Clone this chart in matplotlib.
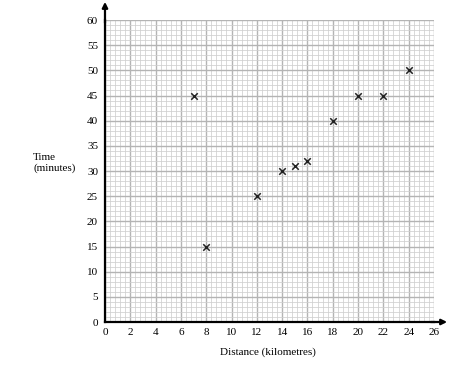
import matplotlib
matplotlib.use('Agg')
import matplotlib.pyplot as plt
import numpy as np

# data
distance = [7, 8, 12, 14, 15, 16, 18, 20, 22, 24]
time_min = [45, 15, 25, 30, 31, 32, 40, 45, 45, 50]

x_ticks = list(range(0, 27, 2))
y_ticks = list(range(0, 61, 5))

plt.rcParams['font.family'] = 'Liberation Serif'

fig = plt.figure(figsize=(4.74, 3.65), dpi=100)
ax = fig.add_axes([0.2215, 0.1178, 0.694, 0.8274])

ax.set_xlim(0, 26)
ax.set_ylim(0, 60)

# graph paper grid
ax.set_xticks(x_ticks)
ax.set_yticks(y_ticks)
ax.set_xticks(np.arange(0, 26.01, 0.4), minor=True)
ax.set_yticks(np.arange(0, 60.01, 1), minor=True)
ax.grid(which='major', color='#b4b4b4', linewidth=1.0)
ax.grid(which='minor', color='#cfcfcf', linewidth=0.55)
ax.set_axisbelow(True)

ax.tick_params(which='both', length=0, labelsize=8, pad=4)
ax.tick_params(axis='y', pad=5)

for s in ['top', 'right']:
    ax.spines[s].set_visible(False)
ax.spines['left'].set_linewidth(1.6)
ax.spines['bottom'].set_linewidth(1.6)

# arrow heads on axes
ax.annotate('', xy=(0, 1.06), xytext=(0, 0.99), xycoords='axes fraction',
            arrowprops=dict(arrowstyle='-|>', color='black', lw=1.6,
                            mutation_scale=8, shrinkA=0, shrinkB=0))
ax.annotate('', xy=(1.04, 0), xytext=(0.99, 0), xycoords='axes fraction',
            arrowprops=dict(arrowstyle='-|>', color='black', lw=1.6,
                            mutation_scale=8, shrinkA=0, shrinkB=0))

ax.scatter(distance, time_min, marker='x', color='#222222', s=22, linewidths=1.1, zorder=3)

fig.text(33 / 474, 1 - 163 / 365, 'Time\n(minutes)', ha='left', va='center',
         fontsize=8, linespacing=1.1)
fig.text(268 / 474, 1 - 352 / 365, 'Distance (kilometres)', ha='center', va='center',
         fontsize=8)

fig.savefig('out.png', dpi=100)
